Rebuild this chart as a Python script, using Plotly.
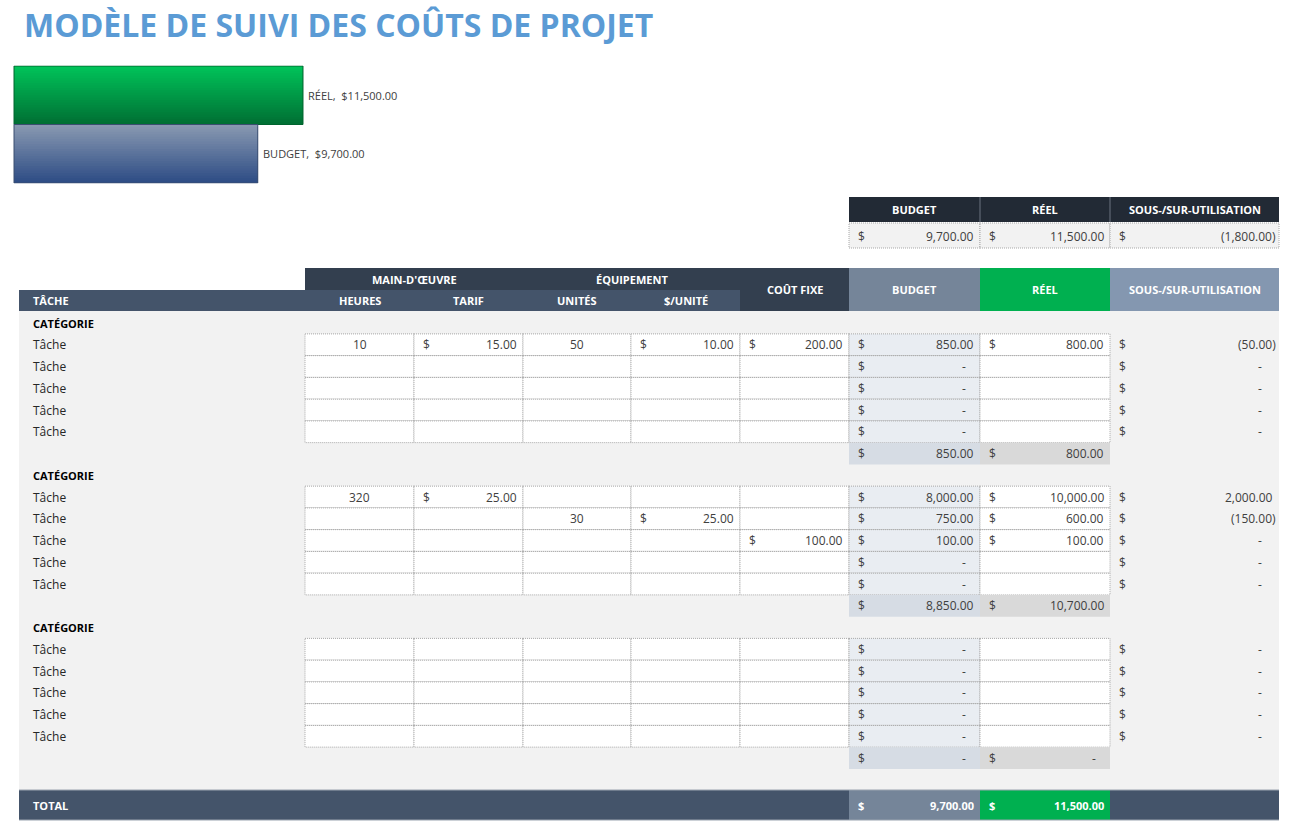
import plotly.graph_objects as go

TITLE = "MODÈLE DE SUIVI DES COÛTS DE PROJET"

BAR_LABELS = ["RÉEL", "BUDGET"]
BAR_VALUES = [11500, 9700]

SUMMARY_HEADERS = ["BUDGET", "RÉEL", "SOUS-/SUR-UTILISATION"]
SUMMARY_VALUES = [9700, 11500, -1800]

GROUP_HEADERS = ["MAIN-D'ŒUVRE", "ÉQUIPEMENT"]
INPUT_HEADERS = ["HEURES", "TARIF", "UNITÉS", "$/UNITÉ"]
CATEGORIES = ["CATÉGORIE", "CATÉGORIE", "CATÉGORIE"]
TASKS = ["Tâche", "Tâche", "Tâche", "Tâche", "Tâche"]

HEURES = [[10, None, None, None, None],
          [320, None, None, None, None],
          [None, None, None, None, None]]
TARIF = [[15, None, None, None, None],
         [25, None, None, None, None],
         [None, None, None, None, None]]
UNITES = [[50, None, None, None, None],
          [None, 30, None, None, None],
          [None, None, None, None, None]]
PRIX_UNITE = [[10, None, None, None, None],
              [None, 25, None, None, None],
              [None, None, None, None, None]]
COUT_FIXE = [[200, None, None, None, None],
             [None, None, 100, None, None],
             [None, None, None, None, None]]
BUDGET = [[850, 0, 0, 0, 0],
          [8000, 750, 100, 0, 0],
          [0, 0, 0, 0, 0]]
REEL = [[800, None, None, None, None],
        [10000, 600, 100, None, None],
        [None, None, None, None, None]]
ECART = [[-50, 0, 0, 0, 0],
         [2000, -150, 0, 0, 0],
         [0, 0, 0, 0, 0]]
SOUS_TOTAL_BUDGET = [850, 8850, 0]
SOUS_TOTAL_REEL = [800, 10700, 0]
TOTAL_BUDGET = 9700
TOTAL_REEL = 11500

# ---- mise en page (pixels de la page) ----
W, H = 1300, 833
FONT = "Open Sans"
TXT = "#404040"
DOT = "#A8A8A8"
FS = 12                      # corps du texte
HS = 11                      # en-têtes
ROW0, PITCH = 323, 21.75
INPUT_EDGES = [305, 414, 523, 631, 740, 849]
BUD_X = (849, 980)
REEL_X = (980, 1110)
SOUS_X = (1110, 1279)
LEFT, RIGHT = 19, 1279

shapes = []
annotations = []


def rect(x0, y0, x1, y1, fill, line=None):
    shapes.append(dict(type="rect", xref="x", yref="y", x0=x0, y0=y0, x1=x1, y1=y1,
                       fillcolor=fill, layer="below",
                       line=dict(color=line or fill, width=1 if line else 0,
                                 dash="1px,1px")))


def hline(x0, x1, y, color):
    shapes.append(dict(type="line", xref="x", yref="y", x0=x0, x1=x1, y0=y, y1=y,
                       line=dict(color=color, width=1), layer="below"))


def vline(x, y0, y1, color):
    shapes.append(dict(type="line", xref="x", yref="y", x0=x, x1=x, y0=y0, y1=y1,
                       line=dict(color=color, width=1), layer="below"))


def text(x, y, s, anchor="left", size=FS, color=TXT, bold=False):
    annotations.append(dict(xref="x", yref="y", x=x, y=y, showarrow=False,
                            text="<b>%s</b>" % s if bold else s,
                            xanchor=anchor, yanchor="middle",
                            font=dict(family=FONT, size=size, color=color)))


def money(x0, x1, y, v, color=TXT, bold=False, dash_off=16, size=FS):
    text(x0 + 7, y, "$", color=color, bold=bold, size=size)
    if v == 0:
        text(x1 - dash_off, y, "-", anchor="center", color=color, bold=bold, size=size)
    elif v < 0:
        text(x1 - 1, y, "(%s)" % format(-v, ",.2f"), anchor="right", color=color,
             bold=bold, size=size)
    else:
        text(x1 - 4, y, format(v, ",.2f"), anchor="right", color=color, bold=bold,
             size=size)


# titre
text(22, 24, TITLE, size=32, color="#5B9BD5", bold=True)

# tableau récapitulatif
rect(BUD_X[0], 197, SOUS_X[1], 222, "#222A35")
vline(REEL_X[0], 197, 222, "#6B7380")
vline(SOUS_X[0], 197, 222, "#6B7380")
for (x0, x1), lab, v in zip([BUD_X, REEL_X, SOUS_X], SUMMARY_HEADERS, SUMMARY_VALUES):
    text((x0 + x1) / 2, 209.5, lab, anchor="center", size=HS, color="white", bold=True)
    rect(x0, 223, x1, 248, "#F2F2F2", DOT)
    money(x0, x1, 236, v)

# en-têtes du tableau principal
rect(LEFT, 311, RIGHT, 790, "#F2F2F2")
rect(INPUT_EDGES[0], 268, INPUT_EDGES[4], 290, "#333F4F")
rect(LEFT, 290, INPUT_EDGES[4], 311, "#44546A")
rect(INPUT_EDGES[4], 268, INPUT_EDGES[5], 311, "#333F4F")
rect(BUD_X[0], 268, BUD_X[1], 311, "#758599")
rect(REEL_X[0], 268, REEL_X[1], 311, "#00B050")
rect(SOUS_X[0], 268, SOUS_X[1], 311, "#8497B0")
text(31, 300.5, "TÂCHE", size=HS, color="white", bold=True)
for g, lab in enumerate(GROUP_HEADERS):
    text((INPUT_EDGES[2 * g] + INPUT_EDGES[2 * g + 2]) / 2, 279, lab,
         anchor="center", size=HS, color="white", bold=True)
for k, lab in enumerate(INPUT_HEADERS):
    text((INPUT_EDGES[k] + INPUT_EDGES[k + 1]) / 2, 300.5, lab,
         anchor="center", size=HS, color="white", bold=True)
text((INPUT_EDGES[4] + INPUT_EDGES[5]) / 2, 289.5, "COÛT FIXE", anchor="center",
     size=HS, color="white", bold=True)
for (x0, x1), lab in zip([BUD_X, REEL_X, SOUS_X], SUMMARY_HEADERS):
    text((x0 + x1) / 2, 289.5, lab, anchor="center", size=HS, color="white", bold=True)

# catégories et tâches
for c, cat in enumerate(CATEGORIES):
    base = c * 7
    text(31, ROW0 + base * PITCH, cat, color="black", bold=True, size=HS)
    for t, task in enumerate(TASKS):
        yc = ROW0 + (base + 1 + t) * PITCH
        y0, y1 = yc - PITCH / 2, yc + PITCH / 2
        text(31, yc, task, color="#262626")
        for k in range(5):
            rect(INPUT_EDGES[k], y0, INPUT_EDGES[k + 1], y1, "white", DOT)
        e = INPUT_EDGES
        if HEURES[c][t] is not None:
            text((e[0] + e[1]) / 2, yc, str(HEURES[c][t]), anchor="center")
        if TARIF[c][t] is not None:
            money(e[1], e[2], yc, TARIF[c][t])
        if UNITES[c][t] is not None:
            text((e[2] + e[3]) / 2, yc, str(UNITES[c][t]), anchor="center")
        if PRIX_UNITE[c][t] is not None:
            money(e[3], e[4], yc, PRIX_UNITE[c][t])
        if COUT_FIXE[c][t] is not None:
            money(e[4], e[5], yc, COUT_FIXE[c][t])
        rect(BUD_X[0], y0, BUD_X[1], y1, "#E9EDF2", DOT)
        money(BUD_X[0], BUD_X[1], yc, BUDGET[c][t])
        rect(REEL_X[0], y0, REEL_X[1], y1, "white", DOT)
        if REEL[c][t] is not None:
            money(REEL_X[0], REEL_X[1], yc, REEL[c][t])
        money(SOUS_X[0], SOUS_X[1], yc, ECART[c][t], dash_off=19)
    yc = ROW0 + (base + 6) * PITCH
    rect(BUD_X[0], yc - PITCH / 2, BUD_X[1], yc + PITCH / 2, "#D6DCE4")
    rect(REEL_X[0], yc - PITCH / 2, REEL_X[1], yc + PITCH / 2, "#D9D9D9")
    money(BUD_X[0], BUD_X[1], yc, SOUS_TOTAL_BUDGET[c])
    money(REEL_X[0], REEL_X[1], yc, SOUS_TOTAL_REEL[c])

# ligne total
rect(LEFT, 790, RIGHT, 820, "#44546A")
rect(BUD_X[0], 790, BUD_X[1], 820, "#758599")
rect(REEL_X[0], 790, REEL_X[1], 820, "#00B050")
hline(LEFT, RIGHT, 790, "#9AA3AF")
hline(LEFT, RIGHT, 820, "#9AA3AF")
text(31, 805, "TOTAL", size=HS, color="white", bold=True)
money(BUD_X[0], BUD_X[1], 805, TOTAL_BUDGET, color="white", bold=True, size=HS)
money(REEL_X[0], REEL_X[1], 805, TOTAL_REEL, color="white", bold=True, size=HS)

# ---- graphique à barres (dégradé par bandes superposées) ----
fig = go.Figure()
fig.add_trace(go.Scatter(x=[], y=[], showlegend=False, hoverinfo="skip"))

TOP = [(0x00, 0xC4, 0x5A), (0x8A, 0x9A, 0xB2)]
BOT = [(0x00, 0x6E, 0x33), (0x2C, 0x4B, 0x84)]


def mix(a, b, t):
    return "rgb(%d,%d,%d)" % tuple(round(a[i] + (b[i] - a[i]) * t) for i in range(3))


N = 24
ys = list(range(len(BAR_VALUES)))
for k in range(N):
    t = (k + 0.5) / N
    fig.add_trace(go.Bar(x=BAR_VALUES, y=ys, orientation="h",
                         width=min(3.0 / N, 1 - k / N), offset=-0.5 + k / N,
                         marker=dict(color=[mix(TOP[i], BOT[i], t) for i in ys],
                                     line_width=0),
                         xaxis="x2", yaxis="y2", hoverinfo="skip", showlegend=False))
fig.add_trace(go.Bar(x=BAR_VALUES, y=ys, orientation="h",
                     width=1, offset=-0.5,
                     marker=dict(color="rgba(0,0,0,0)",
                                 line=dict(color=["#00642E", "#3A4E70"], width=1)),
                     xaxis="x2", yaxis="y2", hoverinfo="skip", showlegend=False))

for i, (lab, v) in enumerate(zip(BAR_LABELS, BAR_VALUES)):
    annotations.append(dict(xref="x2", yref="y2", x=v, y=i, xshift=3, showarrow=False,
                            xanchor="left", yanchor="middle",
                            text="%s,  $%s" % (lab, format(v, ",.2f")),
                            font=dict(family=FONT, size=11, color=TXT)))

fig.update_layout(
    width=W, height=H, margin=dict(l=0, r=0, t=0, b=0),
    paper_bgcolor="white", plot_bgcolor="white",
    barmode="overlay", showlegend=False,
    xaxis=dict(range=[0, W], domain=[0, 1], visible=False, fixedrange=True),
    yaxis=dict(range=[H, 0], domain=[0, 1], visible=False, fixedrange=True),
    xaxis2=dict(range=[-40, 11540], domain=[13 / W, 304 / W], anchor="y2",
                visible=False, fixedrange=True),
    yaxis2=dict(range=[1.51, -0.51], domain=[(H - 183.6) / H, (H - 65.4) / H],
                anchor="x2", visible=False, fixedrange=True),
    shapes=shapes, annotations=annotations,
)

# page sans marge : la figure occupe exactement la fenêtre
fig.write_html("out.html", config={"displayModeBar": False},
               post_script="document.body.style.margin='0px';")
